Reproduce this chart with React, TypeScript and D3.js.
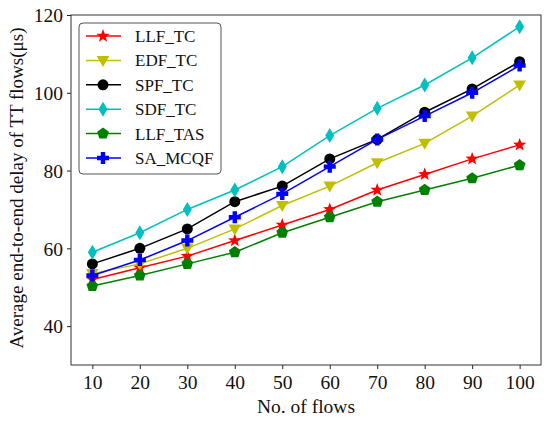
import { useEffect, useRef } from "react";
import * as d3 from "d3";

const WIDTH = 550;
const HEIGHT = 421;
const MARGIN = { top: 15, right: 9, bottom: 56, left: 71 };

const flows = [10, 20, 30, 40, 50, 60, 70, 80, 90, 100];
const yTicks = [40, 60, 80, 100, 120];

const llfTc = [52, 55, 58, 62, 66, 70, 75, 79, 83, 86.6];
const edfTc = [53.5, 56, 60, 65, 71, 76, 82, 87, 94, 102];
const spfTc = [56, 60, 65, 72, 76, 83, 88, 95, 101, 108];
const sdfTc = [59, 64, 70, 75, 81, 89, 96, 102, 109, 117];
const llfTas = [50.3, 53, 56, 59, 64, 68, 72, 75, 78, 81.4];
const saMcqf = [53, 57, 62, 68, 74, 81, 88, 94, 100, 107];

type Shape = "star" | "tri" | "circle" | "diamond" | "pentagon" | "plus";

const series: { name: string; values: number[]; color: string; shape: Shape }[] = [
  { name: "LLF_TC", values: llfTc, color: "#ff0000", shape: "star" },
  { name: "EDF_TC", values: edfTc, color: "#bfbf00", shape: "tri" },
  { name: "SPF_TC", values: spfTc, color: "#000000", shape: "circle" },
  { name: "SDF_TC", values: sdfTc, color: "#00bfbf", shape: "diamond" },
  { name: "LLF_TAS", values: llfTas, color: "#008000", shape: "pentagon" },
  { name: "SA_MCQF", values: saMcqf, color: "#0000ff", shape: "plus" },
];

// marker shapes, roughly matplotlib's *, v, o, d, p, P
function markerPath(shape: Shape): string {
  const p = d3.path();
  const poly = (pts: [number, number][]) => {
    pts.forEach(([x, y], i) => (i === 0 ? p.moveTo(x, y) : p.lineTo(x, y)));
    p.closePath();
  };
  if (shape === "star") {
    const pts: [number, number][] = [];
    for (let i = 0; i < 10; i++) {
      const r = i % 2 === 0 ? 7 : 2.9;
      const a = (i * Math.PI) / 5 - Math.PI / 2;
      pts.push([r * Math.cos(a), r * Math.sin(a)]);
    }
    poly(pts);
  } else if (shape === "tri") {
    poly([[-6.3, -4.5], [6.3, -4.5], [0, 6.5]]);
  } else if (shape === "circle") {
    p.arc(0, 0, 5.5, 0, Math.PI * 2);
  } else if (shape === "diamond") {
    poly([[0, -7.5], [4.5, 0], [0, 7.5], [-4.5, 0]]);
  } else if (shape === "pentagon") {
    const pts: [number, number][] = [];
    for (let i = 0; i < 5; i++) {
      const a = (i * 2 * Math.PI) / 5 - Math.PI / 2;
      pts.push([6.2 * Math.cos(a), 6.2 * Math.sin(a)]);
    }
    poly(pts);
  } else {
    const a = 6, b = 2.2;
    poly([
      [-b, -a], [b, -a], [b, -b], [a, -b], [a, b], [b, b],
      [b, a], [-b, a], [-b, b], [-a, b], [-a, -b], [-b, -b],
    ]);
  }
  return p.toString();
}

export default function App() {
  const svgRef = useRef<SVGSVGElement>(null);

  useEffect(() => {
    if (!svgRef.current) return;
    const svg = d3.select(svgRef.current);
    svg.selectAll("*").remove();

    const innerW = WIDTH - MARGIN.left - MARGIN.right;
    const innerH = HEIGHT - MARGIN.top - MARGIN.bottom;
    const font = "'Liberation Serif', 'Times New Roman', serif";

    const x = d3.scaleLinear().domain([5.5, 104.5]).range([0, innerW]);
    const y = d3.scaleLinear().domain([30, 120]).range([innerH, 0]);

    const g = svg
      .append("g")
      .attr("transform", `translate(${MARGIN.left},${MARGIN.top})`);

    // Axes
    const xAxis = g
      .append("g")
      .attr("transform", `translate(0,${innerH})`)
      .call(d3.axisBottom(x).tickValues(flows).tickSize(4).tickSizeOuter(0).tickPadding(6));
    const yAxis = g
      .append("g")
      .call(d3.axisLeft(y).tickValues(yTicks).tickSize(4).tickSizeOuter(0).tickPadding(4));

    [xAxis, yAxis].forEach((ax) => {
      ax.select(".domain").remove();
      ax.selectAll("line").attr("stroke", "#222").attr("stroke-width", 1);
      ax.selectAll("text")
        .attr("font-family", font)
        .attr("font-size", "19.5px")
        .attr("fill", "#111");
    });
    yAxis.selectAll("text").attr("dy", "0.35em");

    // Lines and markers
    const line = d3
      .line<number>()
      .x((_, i) => x(flows[i]))
      .y((d) => y(d));

    series.forEach((s) => {
      g.append("path")
        .datum(s.values)
        .attr("d", line)
        .attr("fill", "none")
        .attr("stroke", s.color)
        .attr("stroke-width", 1.5);
      g.append("g")
        .selectAll("path")
        .data(s.values)
        .join("path")
        .attr("transform", (d, i) => `translate(${x(flows[i])},${y(d)})`)
        .attr("d", markerPath(s.shape))
        .attr("fill", s.color);
    });

    // Frame
    g.append("rect")
      .attr("width", innerW)
      .attr("height", innerH)
      .attr("fill", "none")
      .attr("stroke", "#333")
      .attr("stroke-width", 1);

    // Legend
    const legend = g.append("g").attr("transform", "translate(8,8)");
    legend
      .append("rect")
      .attr("width", 142)
      .attr("height", 151)
      .attr("rx", 4)
      .attr("fill", "white")
      .attr("fill-opacity", 0.85)
      .attr("stroke", "#555")
      .attr("stroke-width", 1);
    series.forEach((s, i) => {
      const row = legend.append("g").attr("transform", `translate(0,${13 + i * 24.4})`);
      row.append("line")
        .attr("x1", 7)
        .attr("x2", 42)
        .attr("stroke", s.color)
        .attr("stroke-width", 1.5);
      row.append("path")
        .attr("transform", "translate(24,0)")
        .attr("d", markerPath(s.shape))
        .attr("fill", s.color);
      row.append("text")
        .attr("x", 56)
        .attr("dy", "0.35em")
        .attr("font-family", font)
        .attr("font-size", "17px")
        .attr("fill", "#111")
        .text(s.name);
    });

    // Axis titles
    svg.append("text")
      .attr("x", MARGIN.left + innerW / 2)
      .attr("y", 413)
      .attr("text-anchor", "middle")
      .attr("font-family", font)
      .attr("font-size", "19.5px")
      .attr("fill", "#111")
      .text("No. of flows");
    svg.append("text")
      .attr("transform", `translate(23,${MARGIN.top + innerH / 2 - 2}) rotate(-90)`)
      .attr("text-anchor", "middle")
      .attr("font-family", font)
      .attr("font-size", "19px")
      .attr("fill", "#111")
      .text("Average end-to-end delay of TT flows(\u03bcs)");
  }, []);

  return (
    <div>
      <style>{`body{margin:0;background:#fff}`}</style>
      <svg ref={svgRef} width={WIDTH} height={HEIGHT} style={{ display: "block" }} />
    </div>
  );
}
